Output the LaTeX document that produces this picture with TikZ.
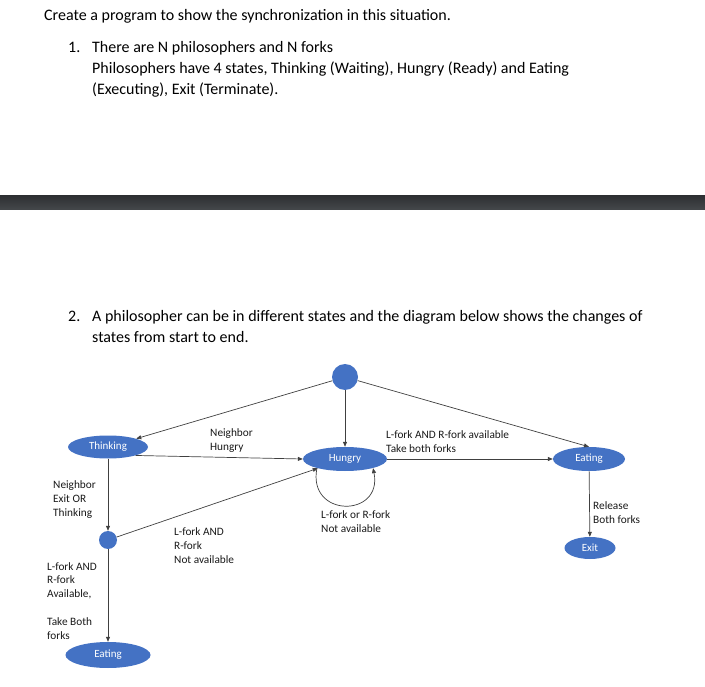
\documentclass[tikz,border=0pt]{standalone}
\usepackage{fontspec}
\setmainfont{Carlito}
\usetikzlibrary{arrows.meta, shapes.geometric}
\definecolor{stateblue}{HTML}{4472C4}
\definecolor{bartop}{HTML}{2E3033}
\definecolor{barmid}{HTML}{53585C}
\definecolor{barbot}{HTML}{45484B}
\tikzset{
  state/.style={ellipse, fill=stateblue, text=white, inner sep=0pt, font=\fontsize{11}{13.4}\selectfont},
  dot/.style={circle, fill=stateblue, inner sep=0pt},
  trans/.style={draw=black!75, line width=0.7pt, -{Triangle[length=5pt,width=4pt]}},
  lbl/.style={anchor=base west, align=left, inner sep=0pt, text=black!90, font=\fontsize{11.3}{13.8}\selectfont},
  para/.style={anchor=base west, inner sep=0pt, font=\fontsize{16}{21}\selectfont},
}

\begin{document}
\begin{tikzpicture}[x=1pt, y=-1pt]
\useasboundingbox (0,0) rectangle (705,687);
\node[para] (intro) at (44,21) {Create a program to show the synchronization in this situation.};
\node[para] (num1) at (68,53) {1.};
\node[para] (item1a) at (92,53) {There are N philosophers and N forks};
\node[para] (item1b) at (92,74) {Philosophers have 4 states, Thinking (Waiting), Hungry (Ready) and Eating};
\node[para] (item1c) at (92,95) {(Executing), Exit (Terminate).};
\shade[top color=bartop, middle color=barmid, bottom color=barbot] (0,196) rectangle (705,210);
\node[para] (num2) at (68,322) {2.};
\node[para] (item2a) at (92,322) {A philosopher can be in different states and the diagram below shows the changes of};
\node[para] (item2b) at (92,343) {states from start to end.};

\node[dot, minimum size=26pt] (start) at (345,377) {};
\node[state, minimum width=80pt, minimum height=23pt] (thinking) at (108,447) {Thinking};
\node[state, minimum width=84pt, minimum height=24pt] (hungry) at (345,459) {Hungry};
\node[state, minimum width=72pt, minimum height=24pt] (eating) at (589,459) {Eating};
\node[state, minimum width=51pt, minimum height=22pt] (exit) at (590,548) {Exit};
\node[dot, minimum size=18pt] (choice) at (108,540) {};
\node[state, minimum width=85pt, minimum height=26pt] (eating2) at (108,655) {Eating};

\draw[trans] (start) -- (thinking);
\draw[trans] (start) -- (hungry);
\draw[trans] (start) -- (eating.north);
\draw[trans] (thinking.-17) -- (hungry.west);
\draw[trans] (thinking) -- (choice);
\draw[trans] (choice) -- (hungry);
\draw[trans] (hungry.198) .. controls +(-10,50) and +(10,50) .. (hungry.342);
\draw[trans] (hungry) -- (eating);
\draw[trans] (eating) -- (exit);
\draw[trans] (choice) -- (eating2);

% base = last line
\node[lbl] (lblhungry) at (210,450) {Neighbor\\Hungry};
\node[lbl] (lbltake) at (386,452) {L-fork AND R-fork available\\Take both forks};
\node[lbl] (lblexit) at (53,516) {Neighbor\\Exit OR\\Thinking};
\node[lbl] (lblwait) at (321,532) {L-fork or R-fork\\Not available};
\node[lbl] (lblrelease) at (593,523) {Release\\Both forks};
\node[lbl] (lblnot) at (174,563) {L-fork AND\\R-fork\\Not available};
\node[lbl] (lblavail) at (47,639) {L-fork AND\\R-fork\\Available,\\[13.8pt]Take Both\\forks};
\end{tikzpicture}
\end{document}
